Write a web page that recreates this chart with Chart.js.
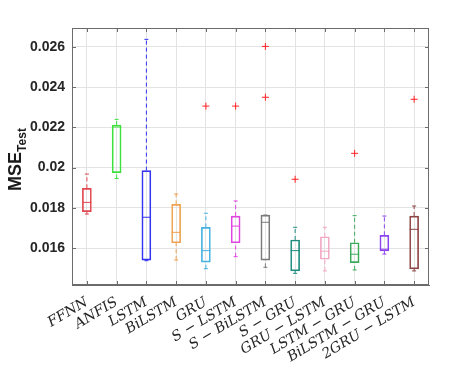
<!DOCTYPE html>
<html>
<head>
<meta charset="utf-8">
<script src="https://cdn.jsdelivr.net/npm/chart.js@4.4.1/dist/chart.umd.min.js"></script>
<style>
  html, body { margin: 0; padding: 0; background: #fff; }
  #wrap { width: 474px; height: 370px; }
</style>
</head>
<body>
<div id="wrap"><canvas id="boxChart" width="474" height="370"></canvas></div>
<script>
const categories = ['FFNN', 'ANFIS', 'LSTM', 'BiLSTM', 'GRU', 'S \u2212 LSTM', 'S \u2212 BiLSTM',
    'S \u2212 GRU', 'GRU \u2212 LSTM', 'LSTM \u2212 GRU', 'BiLSTM \u2212 GRU', '2GRU \u2212 LSTM'];

// box plot stats
const whiskerLow  = [0.01769, 0.01946, 0.01537, 0.01540, 0.01497, 0.01557, 0.01504, 0.01474, 0.01486, 0.01491, 0.01570, 0.01486];
const quartile1   = [0.01781, 0.01975, 0.01540, 0.01626, 0.01530, 0.01626, 0.01540, 0.01486, 0.01544, 0.01527, 0.01585, 0.01496];
const medians     = [0.01827, 0.02202, 0.01753, 0.01678, 0.01587, 0.01709, 0.01728, 0.01587, 0.01584, 0.01569, 0.01594, 0.01693];
const quartile3   = [0.01897, 0.02212, 0.01985, 0.01817, 0.01703, 0.01759, 0.01764, 0.01640, 0.01656, 0.01626, 0.01663, 0.01759];
const whiskerHigh = [0.01968, 0.02240, 0.02638, 0.01869, 0.01773, 0.01834, 0.01764, 0.01703, 0.01703, 0.01761, 0.01759, 0.01809];

const outlierCats = ['GRU', 'S \u2212 LSTM', 'S \u2212 BiLSTM', 'S \u2212 BiLSTM', 'S \u2212 GRU', 'LSTM \u2212 GRU', '2GRU \u2212 LSTM'];
const outlierVals = [0.02306, 0.02306, 0.02603, 0.02350, 0.01942, 0.02071, 0.02340];

const yTicks = [0.016, 0.018, 0.02, 0.022, 0.024, 0.026];
const yMin = 0.01416;
const yMax = 0.026945;

const boxColors = ['#e0474f', '#3ee03e', '#3333f0', '#efa250', '#45b2e0', '#e044e0', '#7a7a7a',
    '#1f8c80', '#f2a8c4', '#3caa5c', '#8a45ee', '#8c4444'];

const axisColor = '#6b6b6b';
const gridColor = '#e3e3e3';

const whiskerSets = categories.map((c, i) => ({
    type: 'line',
    data: [
        { x: c, y: whiskerLow[i] }, { x: c, y: quartile1[i] }, { x: c, y: null },
        { x: c, y: quartile3[i] }, { x: c, y: whiskerHigh[i] }
    ],
    borderColor: boxColors[i],
    borderWidth: 1,
    borderDash: [4, 3],
    pointRadius: 0,
    spanGaps: false,
    order: 3
}));

const frame = {
    id: 'frame',
    afterDraw(chart) {
        const { ctx, chartArea: a, scales } = chart;
        ctx.save();
        ctx.strokeStyle = axisColor;
        ctx.lineWidth = 1;
        ctx.strokeRect(a.left + 0.5, a.top + 0.5, a.right - a.left - 1, a.bottom - a.top - 1);
        ctx.beginPath();
        scales.x.ticks.forEach((t, i) => {
            const px = Math.round(scales.x.getPixelForTick(i)) + 0.5;
            ctx.moveTo(px, a.bottom); ctx.lineTo(px, a.bottom - 4);
            ctx.moveTo(px, a.top); ctx.lineTo(px, a.top + 4);
        });
        scales.y.ticks.forEach(t => {
            const py = Math.round(scales.y.getPixelForValue(t.value)) + 0.5;
            ctx.moveTo(a.left, py); ctx.lineTo(a.left + 4, py);
            ctx.moveTo(a.right, py); ctx.lineTo(a.right - 4, py);
        });
        ctx.stroke();

        // y axis title with subscript
        const cy = (a.top + a.bottom) / 2 + 3;
        ctx.translate(21, cy);
        ctx.rotate(-Math.PI / 2);
        ctx.fillStyle = '#1a1a1a';
        ctx.font = 'bold 18px "Liberation Sans", Arial, sans-serif';
        const w1 = ctx.measureText('MSE').width;
        ctx.font = 'bold 12px "Liberation Sans", Arial, sans-serif';
        const w2 = ctx.measureText('Test').width;
        const start = -(w1 + w2) / 2;
        ctx.font = 'bold 18px "Liberation Sans", Arial, sans-serif';
        ctx.fillText('MSE', start, 0);
        ctx.font = 'bold 12px "Liberation Sans", Arial, sans-serif';
        ctx.fillText('Test', start + w1, 5);
        ctx.restore();
    }
};

new Chart(document.getElementById('boxChart'), {
    type: 'bar',
    data: {
        labels: categories,
        datasets: [
            {
                type: 'bar',
                data: categories.map((c, i) => [quartile1[i], quartile3[i]]),
                backgroundColor: 'rgba(0,0,0,0)',
                borderColor: boxColors,
                borderWidth: 1,
                borderSkipped: false,
                barThickness: 9,
                order: 2
            },
            ...whiskerSets,
            {
                type: 'line',
                data: medians,
                showLine: false,
                pointStyle: 'line',
                pointRadius: 4.5,
                pointBorderWidth: 1,
                pointBorderColor: boxColors,
                order: 1
            },
            {
                type: 'line',
                data: whiskerHigh,
                showLine: false,
                pointStyle: 'line',
                pointRadius: 2,
                pointBorderWidth: 1,
                pointBorderColor: boxColors,
                order: 1
            },
            {
                type: 'line',
                data: whiskerLow,
                showLine: false,
                pointStyle: 'line',
                pointRadius: 2,
                pointBorderWidth: 1,
                pointBorderColor: boxColors,
                order: 1
            },
            {
                type: 'line',
                data: outlierCats.map((c, i) => ({ x: c, y: outlierVals[i] })),
                showLine: false,
                pointStyle: 'cross',
                pointRadius: 3.5,
                pointBorderWidth: 1,
                pointBorderColor: '#ff2020',
                order: 0
            }
        ]
    },
    options: {
        responsive: false,
        animation: false,
        devicePixelRatio: 1,
        events: [],
        layout: { padding: { top: 28, right: 45, left: 0, bottom: 0 } },
        plugins: { legend: { display: false }, tooltip: { enabled: false } },
        scales: {
            x: {
                type: 'category',
                offset: true,
                afterFit: s => { s.height = 85; },
                grid: { offset: false, color: gridColor, drawTicks: false },
                border: { color: axisColor },
                ticks: {
                    autoSkip: false,
                    minRotation: 31,
                    maxRotation: 31,
                    padding: 9,
                    color: '#262626',
                    font: { family: '"DejaVu Serif", serif', style: 'italic', size: 14 }
                }
            },
            y: {
                min: yMin,
                max: yMax,
                afterFit: s => { s.width = 72; },
                afterBuildTicks: s => { s.ticks = yTicks.map(v => ({ value: v })); },
                grid: { color: gridColor, drawTicks: false },
                border: { color: axisColor },
                ticks: {
                    padding: 7,
                    color: '#262626',
                    font: { family: '"Liberation Sans", Arial, sans-serif', weight: 'bold', size: 14 },
                    callback: v => String(v)
                }
            }
        }
    },
    plugins: [frame]
});
</script>
</body>
</html>
